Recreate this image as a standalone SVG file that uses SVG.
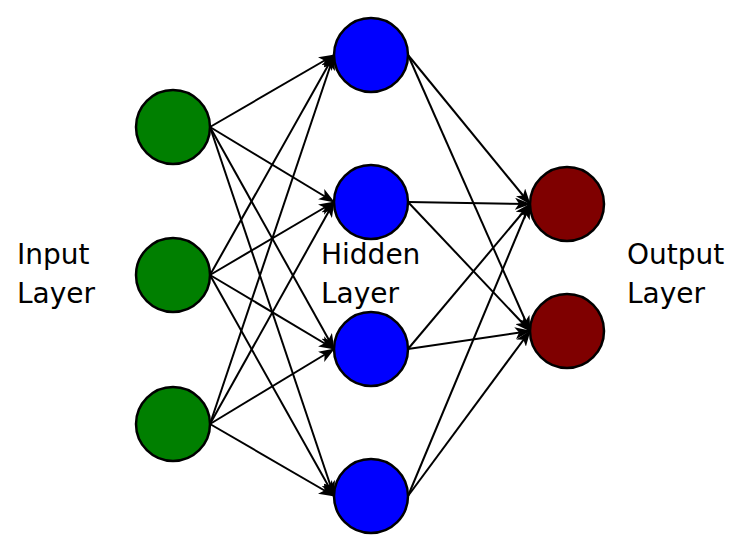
<svg xmlns="http://www.w3.org/2000/svg" width="750" height="550" viewBox="0 0 750 550">
<style>
.n{stroke:#000;stroke-width:2.5}
.c line{stroke:#000;stroke-width:2;marker-end:url(#a)}
text{font-family:"DejaVu Sans",sans-serif;font-size:28px;fill:#000}
</style>
<defs><marker id="a" viewBox="0 0 16 12" refX="15" refY="6" markerWidth="16" markerHeight="12" markerUnits="userSpaceOnUse" orient="auto"><path d="M0,0 L16,6 L0,12 L4,6 Z" fill="#000"/></marker></defs>
<rect width="750" height="550" fill="#fff"/>
<g class="c">
<line x1="210" y1="127" x2="334" y2="55"/><line x1="210" y1="127" x2="334" y2="202"/><line x1="210" y1="127" x2="334" y2="349"/><line x1="210" y1="127" x2="334" y2="496"/>
<line x1="210" y1="275" x2="334" y2="55"/><line x1="210" y1="275" x2="334" y2="202"/><line x1="210" y1="275" x2="334" y2="349"/><line x1="210" y1="275" x2="334" y2="496"/>
<line x1="210" y1="424" x2="334" y2="55"/><line x1="210" y1="424" x2="334" y2="202"/><line x1="210" y1="424" x2="334" y2="349"/><line x1="210" y1="424" x2="334" y2="496"/>
<line x1="408" y1="55" x2="530" y2="204"/><line x1="408" y1="55" x2="530" y2="331"/>
<line x1="408" y1="202" x2="530" y2="204"/><line x1="408" y1="202" x2="530" y2="331"/>
<line x1="408" y1="349" x2="530" y2="204"/><line x1="408" y1="349" x2="530" y2="331"/>
<line x1="408" y1="496" x2="530" y2="204"/><line x1="408" y1="496" x2="530" y2="331"/>
</g>
<g id="i1"><circle class="n" cx="173" cy="127" r="37" fill="#007f00"/></g>
<g id="i2"><circle class="n" cx="173" cy="275" r="37" fill="#007f00"/></g>
<g id="i3"><circle class="n" cx="173" cy="424" r="37" fill="#007f00"/></g>
<g id="h1"><circle class="n" cx="371" cy="55" r="37" fill="#0000ff"/></g>
<g id="h2"><circle class="n" cx="371" cy="202" r="37" fill="#0000ff"/></g>
<g id="h3"><circle class="n" cx="371" cy="349" r="37" fill="#0000ff"/></g>
<g id="h4"><circle class="n" cx="371" cy="496" r="37" fill="#0000ff"/></g>
<g id="o1"><circle class="n" cx="567" cy="204" r="37" fill="#7f0000"/></g>
<g id="o2"><circle class="n" cx="567" cy="331" r="37" fill="#7f0000"/></g>
<text x="17" y="264">Input</text><text x="17" y="303">Layer</text>
<text x="321" y="264">Hidden</text><text x="321" y="303">Layer</text>
<text x="627" y="264">Output</text><text x="627" y="303">Layer</text>
</svg>
